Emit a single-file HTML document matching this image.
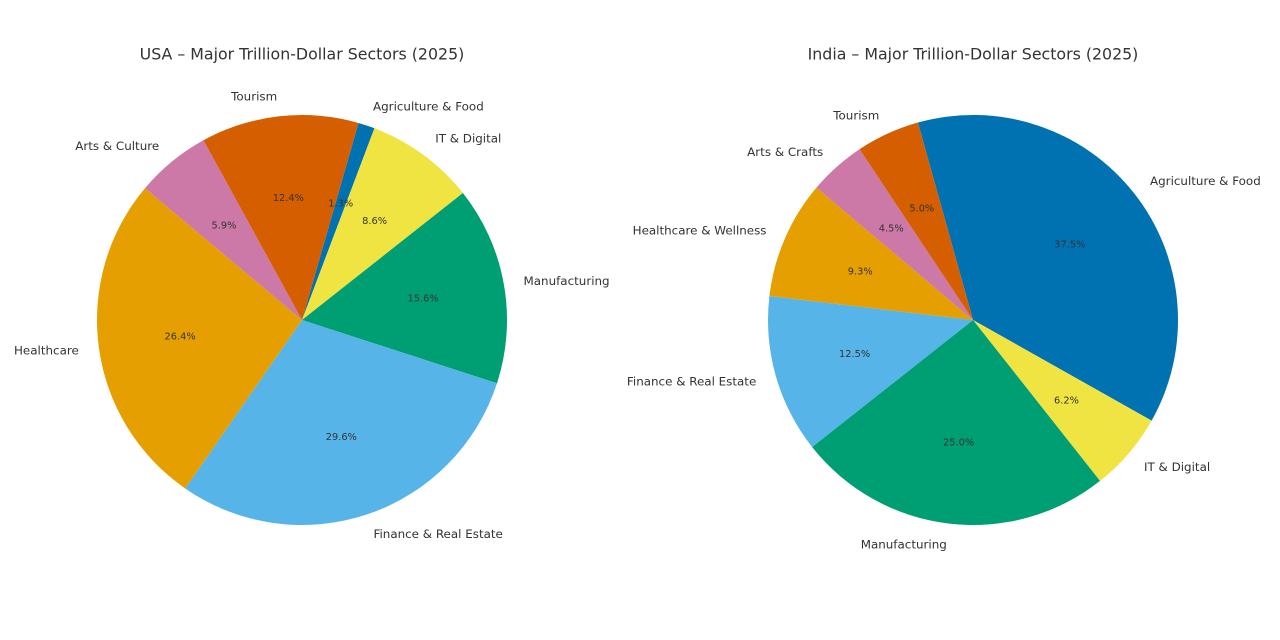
<!DOCTYPE html>
<html>
<head>
<meta charset="utf-8">
<style>
html,body{margin:0;padding:0;background:#fff;}
svg{display:block;}
text{font-family:"DejaVu Sans","Liberation Sans",sans-serif;fill:#333333;}
.t{font-size:15.8px;}
.l{font-size:11.9px;}
.p{font-size:9.8px;}
</style>
</head>
<body>
<svg width="1280" height="640" viewBox="0 0 1280 640" xmlns="http://www.w3.org/2000/svg">
<rect width="1280" height="640" fill="#ffffff"/>

<!-- USA pie -->
<g>
<path d="M302,320 L358.51,122.94 A205,205 0 0 1 374.44,128.22 Z" fill="#0072B2"/>
<path d="M302,320 L374.44,128.22 A205,205 0 0 1 462.90,192.97 Z" fill="#F0E442"/>
<path d="M302,320 L462.90,192.97 A205,205 0 0 1 496.99,383.28 Z" fill="#009E73"/>
<path d="M302,320 L496.99,383.28 A205,205 0 0 1 185.15,488.44 Z" fill="#56B4E9"/>
<path d="M302,320 L185.15,488.44 A205,205 0 0 1 144.91,188.28 Z" fill="#E69F00"/>
<path d="M302,320 L144.91,188.28 A205,205 0 0 1 203.43,140.25 Z" fill="#CC79A7"/>
<path d="M302,320 L203.43,140.25 A205,205 0 0 1 358.51,122.94 Z" fill="#D55E00"/>
</g>
<text class="t" x="302" y="59.5" text-anchor="middle">USA – Major Trillion-Dollar Sectors (2025)</text>

<text class="l" x="373" y="110.5" text-anchor="start">Agriculture &amp; Food</text>
<text class="l" x="435.2" y="142.6" text-anchor="start">IT &amp; Digital</text>
<text class="l" x="523.5" y="284.8" text-anchor="start">Manufacturing</text>
<text class="l" x="373.5" y="538" text-anchor="start">Finance &amp; Real Estate</text>
<text class="l" x="78.8" y="354.3" text-anchor="end">Healthcare</text>
<text class="l" x="159.2" y="150" text-anchor="end">Arts &amp; Culture</text>
<text class="l" x="277.2" y="100.3" text-anchor="end">Tourism</text>

<text class="p" x="340.7" y="206.6" text-anchor="middle">1.3%</text>
<text class="p" x="374.6" y="224.1" text-anchor="middle">8.6%</text>
<text class="p" x="423.1" y="301.6" text-anchor="middle">15.6%</text>
<text class="p" x="341.3" y="439.8" text-anchor="middle">29.6%</text>
<text class="p" x="180.1" y="339.6" text-anchor="middle">26.4%</text>
<text class="p" x="224" y="228.3" text-anchor="middle">5.9%</text>
<text class="p" x="288.4" y="201.1" text-anchor="middle">12.4%</text>

<!-- India pie -->
<g>
<path d="M973,320 L917.87,122.55 A205,205 0 0 1 1151.60,420.63 Z" fill="#0072B2"/>
<path d="M973,320 L1151.60,420.63 A205,205 0 0 1 1100.0,480.93 Z" fill="#F0E442"/>
<path d="M973,320 L1100.0,480.93 A205,205 0 0 1 812.08,447.01 Z" fill="#009E73"/>
<path d="M973,320 L812.08,447.01 A205,205 0 0 1 769.41,296.01 Z" fill="#56B4E9"/>
<path d="M973,320 L769.41,296.01 A205,205 0 0 1 816.42,187.68 Z" fill="#E69F00"/>
<path d="M973,320 L816.42,187.68 A205,205 0 0 1 859.56,149.25 Z" fill="#CC79A7"/>
<path d="M973,320 L859.56,149.25 A205,205 0 0 1 917.87,122.55 Z" fill="#D55E00"/>
</g>
<text class="t" x="973" y="59.5" text-anchor="middle">India – Major Trillion-Dollar Sectors (2025)</text>

<text class="l" x="1150" y="185.2" text-anchor="start">Agriculture &amp; Food</text>
<text class="l" x="1144" y="471" text-anchor="start">IT &amp; Digital</text>
<text class="l" x="946.8" y="548.3" text-anchor="end">Manufacturing</text>
<text class="l" x="756.3" y="385.7" text-anchor="end">Finance &amp; Real Estate</text>
<text class="l" x="766.5" y="234.6" text-anchor="end">Healthcare &amp; Wellness</text>
<text class="l" x="823.2" y="156" text-anchor="end">Arts &amp; Crafts</text>
<text class="l" x="879.3" y="119.3" text-anchor="end">Tourism</text>

<text class="p" x="1069.8" y="247.4" text-anchor="middle">37.5%</text>
<text class="p" x="1066.5" y="403.3" text-anchor="middle">6.2%</text>
<text class="p" x="958.6" y="445.5" text-anchor="middle">25.0%</text>
<text class="p" x="854.6" y="356.8" text-anchor="middle">12.5%</text>
<text class="p" x="860.2" y="274.3" text-anchor="middle">9.3%</text>
<text class="p" x="891.2" y="231.5" text-anchor="middle">4.5%</text>
<text class="p" x="921.8" y="211.5" text-anchor="middle">5.0%</text>
</svg>
</body>
</html>
